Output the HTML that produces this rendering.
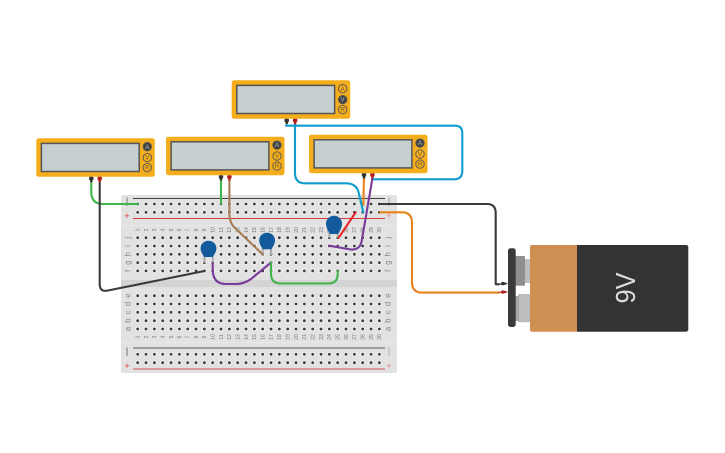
<!DOCTYPE html>
<html><head><meta charset="utf-8"><style>
html,body{margin:0;padding:0;background:#fff;width:725px;height:453px;overflow:hidden}
svg{display:block;font-family:"Liberation Sans",sans-serif}
.halo line{stroke:#efefef;stroke-width:5;stroke-linecap:round;stroke-dasharray:0 8.333}
.dots line{stroke:#3c3c3c;stroke-width:2.8;stroke-linecap:round;stroke-dasharray:0 8.333}
.w{fill:none;stroke-width:2.1;stroke-linecap:round;stroke-linejoin:round}
.n text{font-size:5px;fill:#777;text-anchor:middle}
.ic circle{fill:none;stroke:#555;stroke-width:.9}
.ic text{font-size:6px;fill:#6a5a30;text-anchor:middle}
.ic circle.on{fill:#444}
.ic text.on{fill:#bbb}
</style></head><body>
<svg width="725" height="453" viewBox="0 0 725 453" xmlns="http://www.w3.org/2000/svg">
<defs>
<g id="pr"><rect x="-2.2" y="0" width="4.4" height="3.4" rx=".8"/><rect x="-1.2" y="3" width="2.4" height="2.4"/></g>
</defs>

<!-- breadboard -->
<rect x="121" y="195" width="276" height="178" rx="2" fill="#e2e2e2"/>
<rect x="121" y="280" width="276" height="7" fill="#d4d4d4"/>
<rect x="121" y="225" width="276" height="1" fill="#e9e9e9"/>
<rect x="121" y="342" width="276" height="1" fill="#e9e9e9"/>
<line x1="133" y1="198.5" x2="385" y2="198.5" stroke="#444" stroke-width="1"/>
<line x1="133" y1="218.5" x2="385" y2="218.5" stroke="#d33a3a" stroke-width="1"/>
<line x1="133" y1="348" x2="385" y2="348" stroke="#777" stroke-width="1.2"/>
<line x1="133" y1="369" x2="385" y2="369" stroke="#d98585" stroke-width="1.5"/>
<g font-size="9" text-anchor="middle">
<text x="127" y="204" fill="#555">|</text><text x="127" y="219" fill="#d33">+</text>
<text x="389" y="204" fill="#888">|</text><text x="389" y="219" fill="#e88">+</text>
<text x="127" y="354" fill="#555">|</text><text x="127" y="369" fill="#d33">+</text>
<text x="389" y="354" fill="#999">|</text><text x="389" y="369" fill="#e88">+</text>
</g>
<g class="halo">
<line x1="137.7" x2="382" y1="204" y2="204"/><line x1="137.7" x2="382" y1="212.3" y2="212.3"/>
<line x1="137.7" x2="382" y1="237.7" y2="237.7"/><line x1="137.7" x2="382" y1="246" y2="246"/><line x1="137.7" x2="382" y1="254.3" y2="254.3"/><line x1="137.7" x2="382" y1="262.6" y2="262.6"/><line x1="137.7" x2="382" y1="270.9" y2="270.9"/>
<line x1="137.7" x2="382" y1="295.7" y2="295.7"/><line x1="137.7" x2="382" y1="304" y2="304"/><line x1="137.7" x2="382" y1="312.3" y2="312.3"/><line x1="137.7" x2="382" y1="320.7" y2="320.7"/><line x1="137.7" x2="382" y1="329" y2="329"/>
<line x1="137.7" x2="382" y1="354.3" y2="354.3"/><line x1="137.7" x2="382" y1="362.7" y2="362.7"/>
</g>
<g class="dots">
<line x1="137.7" x2="382" y1="204" y2="204"/><line x1="137.7" x2="382" y1="212.3" y2="212.3"/>
<line x1="137.7" x2="382" y1="237.7" y2="237.7"/><line x1="137.7" x2="382" y1="246" y2="246"/><line x1="137.7" x2="382" y1="254.3" y2="254.3"/><line x1="137.7" x2="382" y1="262.6" y2="262.6"/><line x1="137.7" x2="382" y1="270.9" y2="270.9"/>
<line x1="137.7" x2="382" y1="295.7" y2="295.7"/><line x1="137.7" x2="382" y1="304" y2="304"/><line x1="137.7" x2="382" y1="312.3" y2="312.3"/><line x1="137.7" x2="382" y1="320.7" y2="320.7"/><line x1="137.7" x2="382" y1="329" y2="329"/>
<line x1="137.7" x2="382" y1="354.3" y2="354.3"/><line x1="137.7" x2="382" y1="362.7" y2="362.7"/>
</g>
<!-- column numbers -->
<g class="n">
<text transform="translate(139.500,230) rotate(-90)">1</text><text transform="translate(147.800,230) rotate(-90)">2</text><text transform="translate(156.200,230) rotate(-90)">3</text><text transform="translate(164.500,230) rotate(-90)">4</text><text transform="translate(172.800,230) rotate(-90)">5</text><text transform="translate(181.200,230) rotate(-90)">6</text><text transform="translate(189.500,230) rotate(-90)">7</text><text transform="translate(197.800,230) rotate(-90)">8</text><text transform="translate(206.200,230) rotate(-90)">9</text><text transform="translate(214.500,230) rotate(-90)">10</text><text transform="translate(222.800,230) rotate(-90)">11</text><text transform="translate(231.200,230) rotate(-90)">12</text><text transform="translate(239.500,230) rotate(-90)">13</text><text transform="translate(247.800,230) rotate(-90)">14</text><text transform="translate(256.200,230) rotate(-90)">15</text><text transform="translate(264.500,230) rotate(-90)">16</text><text transform="translate(272.800,230) rotate(-90)">17</text><text transform="translate(281.200,230) rotate(-90)">18</text><text transform="translate(289.500,230) rotate(-90)">19</text><text transform="translate(297.800,230) rotate(-90)">20</text><text transform="translate(306.200,230) rotate(-90)">21</text><text transform="translate(314.500,230) rotate(-90)">22</text><text transform="translate(322.800,230) rotate(-90)">23</text><text transform="translate(331.200,230) rotate(-90)">24</text><text transform="translate(339.500,230) rotate(-90)">25</text><text transform="translate(347.800,230) rotate(-90)">26</text><text transform="translate(356.200,230) rotate(-90)">27</text><text transform="translate(364.500,230) rotate(-90)">28</text><text transform="translate(372.800,230) rotate(-90)">29</text><text transform="translate(381.200,230) rotate(-90)">30</text>
<text transform="translate(139.500,337) rotate(-90)">1</text><text transform="translate(147.800,337) rotate(-90)">2</text><text transform="translate(156.200,337) rotate(-90)">3</text><text transform="translate(164.500,337) rotate(-90)">4</text><text transform="translate(172.800,337) rotate(-90)">5</text><text transform="translate(181.200,337) rotate(-90)">6</text><text transform="translate(189.500,337) rotate(-90)">7</text><text transform="translate(197.800,337) rotate(-90)">8</text><text transform="translate(206.200,337) rotate(-90)">9</text><text transform="translate(214.500,337) rotate(-90)">10</text><text transform="translate(222.800,337) rotate(-90)">11</text><text transform="translate(231.200,337) rotate(-90)">12</text><text transform="translate(239.500,337) rotate(-90)">13</text><text transform="translate(247.800,337) rotate(-90)">14</text><text transform="translate(256.200,337) rotate(-90)">15</text><text transform="translate(264.500,337) rotate(-90)">16</text><text transform="translate(272.800,337) rotate(-90)">17</text><text transform="translate(281.200,337) rotate(-90)">18</text><text transform="translate(289.500,337) rotate(-90)">19</text><text transform="translate(297.800,337) rotate(-90)">20</text><text transform="translate(306.200,337) rotate(-90)">21</text><text transform="translate(314.500,337) rotate(-90)">22</text><text transform="translate(322.800,337) rotate(-90)">23</text><text transform="translate(331.200,337) rotate(-90)">24</text><text transform="translate(339.500,337) rotate(-90)">25</text><text transform="translate(347.800,337) rotate(-90)">26</text><text transform="translate(356.200,337) rotate(-90)">27</text><text transform="translate(364.500,337) rotate(-90)">28</text><text transform="translate(372.800,337) rotate(-90)">29</text><text transform="translate(381.200,337) rotate(-90)">30</text>
</g>
<g class="n">
<text style="font-size:8px;fill:#888" transform="translate(130.500,237.700) rotate(-90)">j</text><text style="font-size:8px;fill:#888" transform="translate(130.500,246) rotate(-90)">i</text><text style="font-size:8px;fill:#888" transform="translate(130.500,254.300) rotate(-90)">h</text><text style="font-size:8px;fill:#888" transform="translate(130.500,262.600) rotate(-90)">g</text><text style="font-size:8px;fill:#888" transform="translate(130.500,270.900) rotate(-90)">f</text>
<text style="font-size:8px;fill:#888" transform="translate(130.500,295.700) rotate(-90)">e</text><text style="font-size:8px;fill:#888" transform="translate(130.500,304) rotate(-90)">d</text><text style="font-size:8px;fill:#888" transform="translate(130.500,312.300) rotate(-90)">c</text><text style="font-size:8px;fill:#888" transform="translate(130.500,320.700) rotate(-90)">b</text><text style="font-size:8px;fill:#888" transform="translate(130.500,329) rotate(-90)">a</text>
<text style="font-size:8px;fill:#888" transform="translate(390.500,237.700) rotate(-90)">j</text><text style="font-size:8px;fill:#888" transform="translate(390.500,246) rotate(-90)">i</text><text style="font-size:8px;fill:#888" transform="translate(390.500,254.300) rotate(-90)">h</text><text style="font-size:8px;fill:#888" transform="translate(390.500,262.600) rotate(-90)">g</text><text style="font-size:8px;fill:#888" transform="translate(390.500,270.900) rotate(-90)">f</text>
<text style="font-size:8px;fill:#888" transform="translate(390.500,295.700) rotate(-90)">e</text><text style="font-size:8px;fill:#888" transform="translate(390.500,304) rotate(-90)">d</text><text style="font-size:8px;fill:#888" transform="translate(390.500,312.300) rotate(-90)">c</text><text style="font-size:8px;fill:#888" transform="translate(390.500,320.700) rotate(-90)">b</text><text style="font-size:8px;fill:#888" transform="translate(390.500,329) rotate(-90)">a</text>
</g>

<!-- capacitors -->
<g stroke="#aaa" stroke-width="2">
<line x1="204.4" y1="255" x2="204.4" y2="263"/><line x1="212.7" y1="255" x2="212.7" y2="263"/>
<line x1="262.7" y1="247" x2="262.7" y2="255"/><line x1="271" y1="247" x2="271" y2="255"/>
<line x1="329.4" y1="232" x2="329.4" y2="238"/><line x1="337.7" y1="232" x2="337.7" y2="238"/>
</g>
<g fill="#125a9c">
<path d="M208.5 240.7c4.6 0 7.9 3.3 7.9 7.6 0 3.4-2 6.2-3.7 8.7h-8.4c-1.7-2.5-3.7-5.300-3.700-8.700 0-4.300 3.300-7.600 7.900-7.600z"/>
<path d="M267.100 232.700c4.600 0 7.900 3.300 7.900 7.600 0 3.400-2 6.500-3.700 9h-8.400c-1.700-2.500-3.700-5.600-3.700-9 0-4.300 3.300-7.600 7.900-7.600z"/>
<path d="M334 215.700c4.600 0 8 3.500 8 8 0 3.800-2.200 7.400-4 10.300h-8c-1.800-2.900-4-6.500-4-10.300 0-4.500 3.400-8 8-8z"/>
</g>

<!-- wires -->
<g class="w">
<path stroke="#3fb54a" d="M91.300 182V192Q91.300 204 103 204H137.700"/>
<path stroke="#3a3a3a" d="M99.700 182V284Q99.700 292.500 108 290.500L204.400 271"/>
<path stroke="#3fb54a" d="M221 181V204"/>
<path stroke="#a57c52" d="M229.400 181V214Q229.400 222 234 227L262.700 254.400"/>
<path stroke="#7a3a9a" d="M212.700 263V270Q213 284 226 284H236Q244 284 251 279L271 262.600"/>
<path stroke="#3fb54a" d="M271 262.600V274Q271 283.500 281 283.500H328Q337.700 283.500 337.700 274V270.900"/>
<path stroke="#e8262a" d="M355.700 212.300L338.700 237.700"/>
<path stroke="#e8811a" d="M364 178L363.300 205"/>
<path stroke="#0e9dcf" d="M286 125.700H455Q462.300 125.700 462.300 133V171Q462.300 179.300 454 179.300H372.500"/>
<path stroke="#0e9dcf" d="M295 124V173Q295 183.300 305 183.300H346Q356 183.300 358.500 192L363.300 212.300"/>
<path stroke="#7a3a9a" d="M372.500 178L361.700 241Q360 250 351 249.500L329.300 245.700"/>
<path stroke="#3a3a3a" d="M380 204H487Q495.700 204 495.700 213V284.300H499"/>
<path stroke="#e8811a" d="M380 212.300H402Q412 212.300 412 223V282Q412 292.600 422 292.600H499"/>
</g>

<!-- meters -->
<g transform="translate(36.300,138.300)">
<rect width="118.500" height="38.500" rx="2.500" fill="#f5ae1b"/><rect x="5.100" y="5.100" width="97.800" height="28.100" fill="#c6cfd0" stroke="#555" stroke-width="1.500"/>
<g class="ic"><circle class="on" cx="111" cy="8.400" r="4.200"/><text class="on" x="111" y="10.500">A</text><circle cx="111" cy="19.300" r="4.200"/><text x="111" y="21.400">V</text><circle cx="111" cy="29.300" r="4.200"/><text x="111" y="31.400">R</text></g>
<use href="#pr" x="55" y="38.500" fill="#333"/><use href="#pr" x="63.400" y="38.500" fill="#b01e1e"/>
</g>
<g transform="translate(166,136.700)">
<rect width="118.500" height="38.500" rx="2.500" fill="#f5ae1b"/><rect x="5.100" y="5.100" width="97.800" height="28.100" fill="#c6cfd0" stroke="#555" stroke-width="1.500"/>
<g class="ic"><circle class="on" cx="111" cy="8.400" r="4.200"/><text class="on" x="111" y="10.500">A</text><circle cx="111" cy="19.300" r="4.200"/><text x="111" y="21.400">V</text><circle cx="111" cy="29.300" r="4.200"/><text x="111" y="31.400">R</text></g>
<use href="#pr" x="55" y="38.500" fill="#333"/><use href="#pr" x="63.400" y="38.500" fill="#b01e1e"/>
</g>
<g transform="translate(231.700,80.300)">
<rect width="118.500" height="38.500" rx="2.500" fill="#f5ae1b"/><rect x="5.100" y="5.100" width="97.800" height="28.100" fill="#c6cfd0" stroke="#555" stroke-width="1.500"/>
<g class="ic"><circle cx="111" cy="8.400" r="4.200"/><text x="111" y="10.500">A</text><circle class="on" cx="111" cy="19.300" r="4.200"/><text class="on" x="111" y="21.400">V</text><circle cx="111" cy="29.300" r="4.200"/><text x="111" y="31.400">R</text></g>
<use href="#pr" x="55" y="38.500" fill="#333"/><use href="#pr" x="63.400" y="38.500" fill="#b01e1e"/>
</g>
<g transform="translate(309,134.700)">
<rect width="118.500" height="38.500" rx="2.500" fill="#f5ae1b"/><rect x="5.100" y="5.100" width="97.800" height="28.100" fill="#c6cfd0" stroke="#555" stroke-width="1.500"/>
<g class="ic"><circle class="on" cx="111" cy="8.400" r="4.200"/><text class="on" x="111" y="10.500">A</text><circle cx="111" cy="19.300" r="4.200"/><text x="111" y="21.400">V</text><circle cx="111" cy="29.300" r="4.200"/><text x="111" y="31.400">R</text></g>
<use href="#pr" x="55" y="38.500" fill="#333"/><use href="#pr" x="63.400" y="38.500" fill="#b01e1e"/>
</g>

<!-- battery -->
<rect x="524" y="259" width="7" height="24" fill="#bdbdbd"/>
<rect x="515" y="256" width="10" height="29.700" rx="1" fill="#8f8f8f"/>
<rect x="518" y="294" width="13" height="28.300" rx="1" fill="#bdbdbd"/>
<rect x="515" y="296" width="4" height="25" fill="#a5a5a5"/>
<path d="M532 245H577V331.700H532a2 2 0 0 1-2-2V247a2 2 0 0 1 2-2z" fill="#d08f52"/>
<path d="M577 245H686a2.300 2.300 0 0 1 2.300 2.300V329.400a2.300 2.300 0 0 1-2.300 2.300H577z" fill="#333"/>
<rect x="508" y="248.300" width="7.700" height="78.700" rx="2.500" fill="#3a3a3a"/>
<text transform="translate(635,288) rotate(-90)" text-anchor="middle" font-size="28" fill="#dcdcdc" textLength="31" lengthAdjust="spacingAndGlyphs">9V</text>
<path d="M497.500 283.600h2.500l2.500-1.800 3 .8 2.500 1-2.500 1-3 .8-2.500-1.300h-2.500z" fill="#333"/>
<path d="M497.500 292h2.500l2.500-1.800 3 .8 2.500 1-2.500 1-3 .8-2.500-1.300h-2.500z" fill="#b01e1e"/>
</svg>
</body></html>
